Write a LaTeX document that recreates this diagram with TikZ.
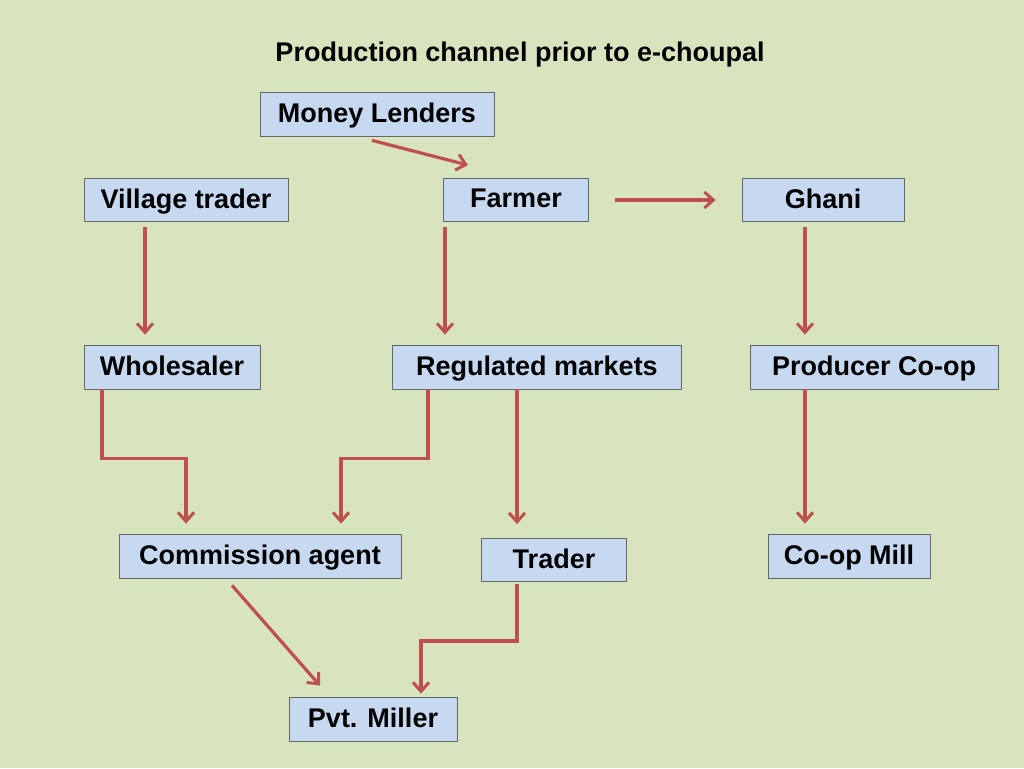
\documentclass[tikz,border=0pt]{standalone}
\usepackage{fontspec}
\setmainfont{Liberation Sans}
\usetikzlibrary{arrows.meta}
\definecolor{bgreen}{HTML}{D7E4BD}
\definecolor{boxblue}{HTML}{C6D9F1}
\definecolor{arrred}{HTML}{C0504D}
\tikzset{
  box/.style={draw=gray!80!black, fill=boxblue, line width=0.8pt, inner sep=0pt, text depth=3pt, font=\fontsize{27}{30}\selectfont\bfseries},
  arr/.style={draw=arrred, line width=3.2pt, -{Straight Barb[length=9pt,width=16pt,line width=3pt]}}
}
\begin{document}
\begin{tikzpicture}[x=1pt, y=-1pt]
    \fill[bgreen] (0,0) rectangle (1024,768);
    \useasboundingbox (0,0) rectangle (1024,768);
    \node (title) at (520,55) {\fontsize{27}{30}\selectfont\bfseries Production channel prior to e-choupal};
    % boxes
    \node[box, minimum width=234, minimum height=44] (ml) at (377,114) {Money Lenders};
    \node[box, minimum width=204, minimum height=43] (vt) at (186,200) {Village trader};
    \node[box, minimum width=145, minimum height=43] (fa) at (516,200) {Farmer};
    \node[box, minimum width=162, minimum height=43] (gh) at (823,200) {Ghani};
    \node[box, minimum width=176, minimum height=44] (ws) at (172,367) {Wholesaler};
    \node[box, minimum width=289, minimum height=44] (rm) at (537,367) {Regulated markets};
    \node[box, minimum width=248, minimum height=44] (pc) at (874,367) {Producer Co-op};
    \node[box, minimum width=282, minimum height=44] (ca) at (260,556) {Commission agent};
    \node[box, minimum width=145, minimum height=43] (tr) at (554,560) {Trader};
    \node[box, minimum width=162, minimum height=44] (cm) at (849,556) {Co-op Mill};
    \node[box, minimum width=168, minimum height=44] (pm) at (373,719) {Pvt. Miller};
    % connectors
    \draw[arr] ([xshift=-5,yshift=-4]ml.south) -- ([xshift=-48,yshift=13]fa.north);
    \draw[arr] ([xshift=26]fa.east) -- ([xshift=-26]gh.west);
    \draw[arr] ([xshift=-41,yshift=-5]vt.south) -- ([xshift=-27,yshift=10]ws.north);
    \draw[arr] ([xshift=-71,yshift=-5]fa.south) -- ([xshift=-92,yshift=10]rm.north);
    \draw[arr] ([xshift=-18,yshift=-5]gh.south) -- ([xshift=-69,yshift=10]pc.north);
    \draw[arr] ([xshift=-70]ws.south) |- ++(84,69) -- ([xshift=-74,yshift=10]ca.north);
    \draw[arr] ([xshift=-109]rm.south) |- ++(-87,69) -- ([xshift=81,yshift=10]ca.north);
    \draw[arr] ([xshift=-20]rm.south) -- ([xshift=-37,yshift=14]tr.north);
    \draw[arr] ([xshift=-69]pc.south) -- ([xshift=-44,yshift=10]cm.north);
    \draw[arr] ([xshift=-28,yshift=-7]ca.south) -- ([xshift=-53,yshift=11]pm.north);
    \draw[arr] ([xshift=-37,yshift=-2]tr.south) |- ++(-96,57) -- ([xshift=48,yshift=3]pm.north);
\end{tikzpicture}
\end{document}
